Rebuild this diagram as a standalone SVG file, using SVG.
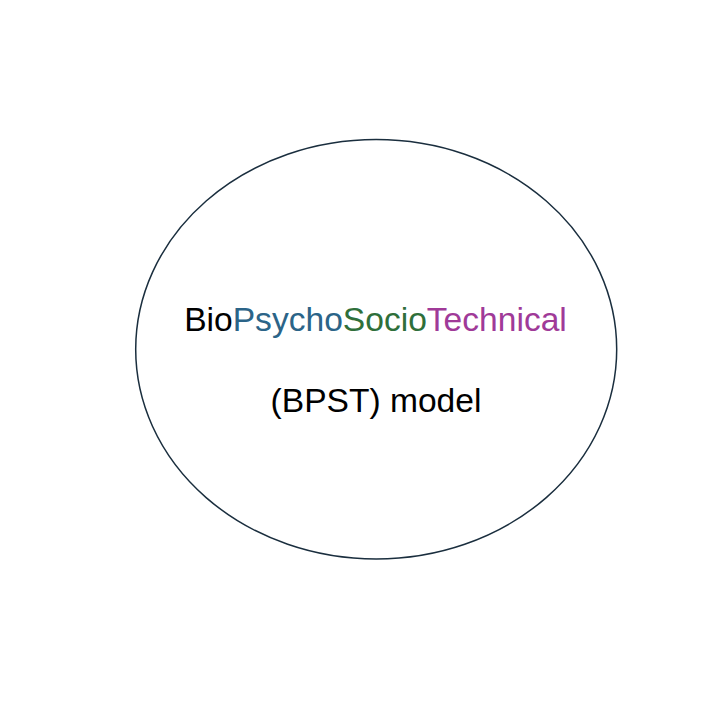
<svg xmlns="http://www.w3.org/2000/svg" width="714" height="704" viewBox="0 0 714 704">
<style>
.lbl{font-family:"Liberation Sans",Arial,Helvetica,sans-serif;font-size:33.6px;text-anchor:middle;fill:#000}
.bio{fill:#000}.psy{fill:#2b6488}.soc{fill:#2f6f3a}.tec{fill:#a03a98}
</style>
<rect width="714" height="704" fill="#fff"/>
<g id="bpst-node">
<ellipse cx="376.2" cy="349.3" rx="240.5" ry="209.7" fill="#fff" stroke="#1a2e3e" stroke-width="1.5"/>
<text class="lbl" x="375.5" y="331"><tspan class="bio">Bio</tspan><tspan class="psy">Psycho</tspan><tspan class="soc">Socio</tspan><tspan class="tec">Technical</tspan></text>
<text class="lbl" x="376" y="412">(BPST) model</text>
</g>
<g id="connectors"/>
</svg>
